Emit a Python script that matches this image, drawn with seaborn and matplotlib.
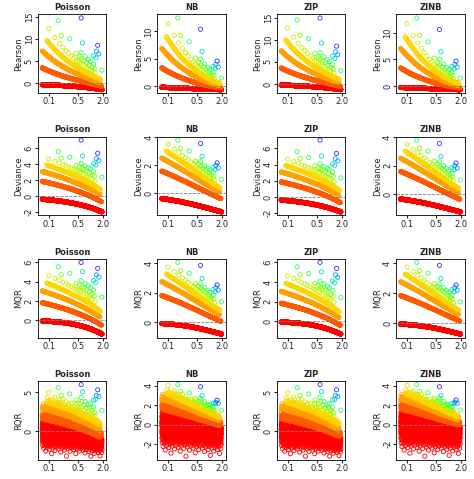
import numpy as np, pandas as pd, math
import matplotlib
matplotlib.use("Agg")
import matplotlib.pyplot as plt
import seaborn as sns
from statistics import NormalDist
from matplotlib.ticker import FixedLocator, NullLocator, MaxNLocator, FormatStrFormatter

models = ["Poisson", "NB", "ZIP", "ZINB"]
rows = ["Pearson", "Deviance", "MQR", "RQR"]
x_ticks = [0.1, 0.5, 2.0]
x_tick_labels = ["0.1", "0.5", "2.0"]

# fitted means of observations, grouped by observed count
mu_count0 = np.geomspace(0.07, 1.9, 1500)
mu_count1 = np.geomspace(0.07, 1.85, 300)
mu_count2 = np.geomspace(0.07, 1.7, 180)
mu_count3 = np.geomspace(0.09, 1.75, 90)
mu_count4 = [0.1, 0.14, 0.18, 0.22, 0.26, 0.3, 0.35, 0.4, 0.45, 0.5, 0.55, 0.6, 0.7, 0.8, 0.9, 1.0, 1.1, 1.3]
mu_count5 = [0.2, 0.45, 0.55, 0.62, 0.7, 0.8, 0.95, 1.1, 1.25]
mu_count6 = [0.17, 0.32, 0.6, 0.75, 0.9, 1.0, 1.2, 1.9]
mu_count8 = [0.65, 1.2, 1.35]
mu_count10 = [1.6, 1.4]
mu_count12 = [0.6, 1.5]
count_groups = {0: mu_count0, 1: mu_count1, 2: mu_count2, 3: mu_count3, 4: mu_count4,
                5: mu_count5, 6: mu_count6, 8: mu_count8, 10: mu_count10, 12: mu_count12}
count_colors = {0: "#ff0000", 1: "#ff5a00", 2: "#ffa000", 3: "#ffd500", 4: "#c8f000",
                5: "#80ff00", 6: "#30ff60", 8: "#00e0c0", 10: "#00a0ff", 12: "#3030ff"}
theta = 0.6
pi0 = 0.05

def pmf(k, mu, m):
    if m in ("Poisson", "ZIP"):
        p = math.exp(k*math.log(mu) - mu - math.lgamma(k+1))
    else:
        p = math.exp(math.lgamma(k+theta) - math.lgamma(theta) - math.lgamma(k+1)
                     + theta*math.log(theta/(theta+mu)) + k*math.log(mu/(theta+mu)))
    if m.startswith("ZI"):
        p = (1-pi0)*p + (pi0 if k == 0 else 0)
    return p

def mean_var(mu, m):
    v = mu if m in ("Poisson", "ZIP") else mu + mu*mu/theta
    if m.startswith("ZI"):
        e = (1-pi0)*mu
        v2 = (1-pi0)*(v + mu*mu) - e*e
        return e, v2
    return mu, v

def sat_ll(y, m):
    if y == 0:
        return 0.0
    best = -1e9
    for mm in np.geomspace(max(y*0.5, 1e-3), y*2, 60):
        best = max(best, math.log(pmf(y, mm, m)))
    return best

nd = NormalDist()
golden = 0.6180339887
recs = []
idx = 0
for y, mus in count_groups.items():
    for mu in mus:
        idx += 1
        for m in models:
            e, v = mean_var(mu, m)
            pear = (y - e) / math.sqrt(v)
            dv = 2*(sat_ll(y, m) - math.log(pmf(y, mu, m)))
            dev = math.copysign(math.sqrt(max(dv, 0)), y - e)
            F = sum(pmf(k, mu, m) for k in range(y))
            p = pmf(y, mu, m)
            mqr = nd.inv_cdf(min(max(F + 0.5*p, 1e-9), 1-1e-9))
            u = (idx*golden) % 1.0
            rqr = nd.inv_cdf(min(max(F + u*p, 1e-4), 1-1e-9))
            for r, val in zip(rows, [pear, dev, mqr, rqr]):
                recs.append(dict(model=m, resid=r, mu=mu, y=y, val=val))
df = pd.DataFrame(recs)

sns.set_style("white")
fig, axes = plt.subplots(4, 4, figsize=(4.74, 4.79), dpi=100)
for i, r in enumerate(rows):
    for j, m in enumerate(models):
        ax = axes[i, j]
        d = df[(df.model == m) & (df.resid == r)].sort_values("y")
        sns.scatterplot(data=d, x="mu", y="val", hue="y", palette=count_colors, ax=ax,
                        legend=False, s=9, linewidth=0.6)
        coll = ax.collections[-1]
        fc = coll.get_facecolors()
        coll.set_edgecolors(fc)
        coll.set_facecolors("none")
        ax.axhline(0, color="grey", ls="--", lw=0.6)
        ax.set_xscale("log")
        ax.set_xlim(0.055, 2.4)
        ax.xaxis.set_major_locator(FixedLocator(x_ticks))
        ax.xaxis.set_minor_locator(NullLocator())
        ax.set_xticklabels(x_tick_labels)
        ax.yaxis.set_major_locator(MaxNLocator(nbins=5, integer=True, steps=[1, 2, 5, 10]))
        ax.yaxis.set_major_formatter(FormatStrFormatter("%d"))
        ax.set_xlabel("")
        ax.set_ylabel(r, fontsize=6, labelpad=1)
        ax.set_title(m, fontsize=6, fontweight="bold", pad=3)
        ax.tick_params(labelsize=6, length=2, pad=1, left=True, bottom=True)
        for t in ax.get_yticklabels():
            t.set_rotation(90); t.set_va("center")
        for s in ax.spines.values():
            s.set_linewidth(0.6); s.set_color("black")
fig.subplots_adjust(left=0.08, right=0.98, top=0.97, bottom=0.04, wspace=0.75, hspace=0.55)
fig.savefig("out.png", dpi=100)
